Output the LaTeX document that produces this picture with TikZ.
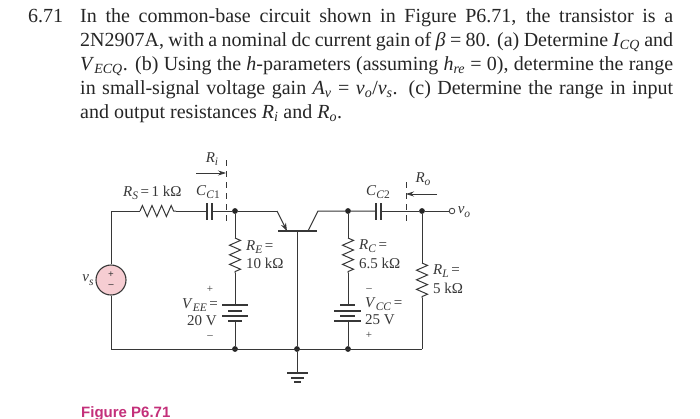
\documentclass[tikz,border=0pt]{standalone}
\usepackage{fontspec}
\setmainfont{Liberation Serif}
\setsansfont{Liberation Sans}
\usetikzlibrary{decorations.pathmorphing,arrows.meta}
\definecolor{inkgray}{RGB}{55,55,55}
\definecolor{srcpink}{RGB}{246,205,210}
\definecolor{figpink}{RGB}{196,48,122}
\newcommand{\vs}[2]{\textit{#1}\textsubscript{\textit{#2}}}
\newcommand{\lb}[2]{\textit{#1}{\raisebox{-0.22em}{\fontsize{11.5}{12}\selectfont\textit{#2}}}}
\newcommand{\fitline}[1]{\makebox[593pt][s]{#1}}
\tikzset{
  wire/.style={inkgray,line width=1pt},
  res/.style={wire,decorate,decoration={zigzag,segment length=9.6pt,amplitude=5.5pt}},
  plate/.style={inkgray,line width=1.2pt},
  dashmark/.style={inkgray,line width=0.7pt,dash pattern=on 6pt off 5pt},
  lookarrow/.style={inkgray,line width=0.7pt,-{Stealth[length=8pt,width=5pt]}},
  junc/.style={circle,fill=black!85,inner sep=0pt,minimum size=5.8pt},
  openterm/.style={circle,draw=inkgray,fill=white,line width=0.8pt,inner sep=0pt,minimum size=5.6pt},
  txt/.style={inner sep=0pt,anchor=base west,text=black!85,font=\fontsize{20}{24}\selectfont},
  lbl/.style={inner sep=0pt,text=inkgray,font=\fontsize{15}{17}\selectfont},
  signlbl/.style={inner sep=0pt,text=inkgray,font=\fontsize{11}{12}\selectfont},
}
\begin{document}
\begin{tikzpicture}[x=1pt,y=-1pt]
  \useasboundingbox [fill=white] (0,0) rectangle (700,418);
  \node [txt] (num) at (28,22) {6.71};
  \node [txt] (line1) at (80,22) {\fitline{In the common-base circuit shown in Figure P6.71, the transistor is a}};
  \node [txt] (line2) at (80,46) {\fitline{2N2907A, with a nominal dc current gain of \textit{β} = 80. (a) Determine \vs{I}{CQ} and}};
  \node [txt] (line3) at (80,70) {\fitline{\vs{V}{ECQ}. (b) Using the \textit{h}-parameters (assuming \vs{h}{re} = 0), determine the range}};
  \node [txt] (line4) at (80,94) {\fitline{in small-signal voltage gain \vs{A}{v} = \vs{v}{o}/\vs{v}{s}. (c) Determine the range in input}};
  \node [txt] (line5) at (80,118) {and output resistances \vs{R}{i} and \vs{R}{o}.};

  \coordinate (tl) at (111,211);
  \coordinate (bl) at (111,349);
  \node [circle,draw=inkgray,fill=srcpink,line width=1.1pt,minimum size=30pt,inner sep=0pt] (vsrc) at (111,280) {};
  \node [lbl,font=\fontsize{10}{11}\selectfont\bfseries] (vsplus) at (111,274.5) {+};
  \node [lbl,font=\fontsize{10}{11}\selectfont\bfseries] (vsminus) at (111,286) {--};
  \coordinate (rs1) at (140,211);
  \coordinate (rs2) at (176,211);
  \coordinate (c1a) at (207,211);
  \coordinate (c1b) at (212,211);
  \node [junc] (ejunc) at (235,211) {};
  \coordinate (emit) at (277,211);
  \coordinate (emitb) at (287,231);
  \coordinate (collb) at (308,231);
  \coordinate (coll) at (318,211);
  \coordinate (basel) at (278,231);
  \coordinate (baser) at (317,231);
  \coordinate (base) at (297,231);
  \node [junc] (cjunc) at (348,211) {};
  \coordinate (c2a) at (376,211);
  \coordinate (c2b) at (381,211);
  \node [junc] (ojunc) at (422,211) {};
  \node [openterm] (vout) at (452,211) {};
  \node [junc] (bjunc1) at (235,349) {};
  \node [junc] (bjunc2) at (297,349) {};
  \node [junc] (bjunc3) at (348,349) {};
  \coordinate (br) at (422,349);
  \coordinate (gnd) at (297,373);

  \draw [wire] (vsrc) -- (tl) -- (rs1);
  \draw [res] (rs1) -- (rs2);
  \draw [wire] (rs2) -- (c1a);
  \draw [wire] (c1b) -- (ejunc) -- (emit);
  \draw [plate] (207,203) -- (207,220);
  \draw [plate] (212,203) -- (212,220);
  \draw [wire,-{Stealth[length=8pt,width=5.5pt]}] (emit) -- (emitb);
  \draw [wire] (collb) -- (coll) -- (cjunc) -- (c2a);
  \draw [plate,line width=1.6pt] (basel) -- (baser);
  \draw [plate] (376,203) -- (376,220);
  \draw [plate] (381,203) -- (381,220);
  \draw [wire] (c2b) -- (ojunc) -- (vout);
  \draw [wire] (base) -- (bjunc2) -- (gnd);
  \draw [wire] (vsrc) -- (bl) -- (br);

  \coordinate (re1) at (235,238);
  \coordinate (re2) at (235,273);
  \draw [wire] (ejunc) -- (re1);
  \draw [res] (re1) -- (re2);
  \draw [wire] (re2) -- (235,305);
  \draw [wire] (235,321) -- (bjunc1);
  \draw [plate] (222,305) -- (248,305);
  \draw [plate] (228,311) -- (242,311);
  \draw [plate] (222,316) -- (248,316);
  \draw [plate] (228,321) -- (242,321);

  \coordinate (rc1) at (348,238);
  \coordinate (rc2) at (348,273);
  \draw [wire] (cjunc) -- (rc1);
  \draw [res] (rc1) -- (rc2);
  \draw [wire] (rc2) -- (348,305);
  \draw [wire] (348,321) -- (bjunc3);
  \draw [plate] (340,305) -- (355,305);
  \draw [plate] (334,311) -- (361,311);
  \draw [plate] (340,316) -- (355,316);
  \draw [plate] (334,321) -- (361,321);

  \coordinate (rl1) at (422,263);
  \coordinate (rl2) at (422,298);
  \draw [wire] (ojunc) -- (rl1);
  \draw [res] (rl1) -- (rl2);
  \draw [wire] (rl2) -- (br);

  \draw [plate] (287,373) -- (308,373);
  \draw [plate] (291,378) -- (304,378);
  \draw [plate] (294,382) -- (301,382);

  \coordinate (ria) at (226,160);
  \coordinate (rib) at (226,225);
  \coordinate (roa) at (406,182);
  \coordinate (rob) at (406,225);
  \coordinate (riarr) at (196,173);
  \coordinate (roarr) at (437,194);
  \draw [dashmark] (ria) -- (rib);
  \draw [dashmark] (roa) -- (rob);
  \draw [lookarrow] (riarr) -- (226,173);
  \draw [lookarrow] (roarr) -- (406,194);

  \node [lbl] (rilab) at (212,159) {\lb{R}{i}};
  \node [lbl] (rolab) at (423,179) {\lb{R}{o}};
  \node [lbl,anchor=west] (rslab) at (123,193) {\lb{R}{S}\,=\,1 kΩ};
  \node [lbl] (c1lab) at (208,192) {\lb{C}{C}\raisebox{-0.22em}{\fontsize{11.5}{12}\selectfont 1}};
  \node [lbl] (c2lab) at (378,192) {\lb{C}{C}\raisebox{-0.22em}{\fontsize{11.5}{12}\selectfont 2}};
  \node [lbl] (volab) at (464,212) {\lb{v}{o}};
  \node [lbl] (vslab) at (88,280) {\lb{v}{s}};
  \node [lbl,anchor=west] (relab) at (246,247) {\lb{R}{E}\,=};
  \node [lbl,anchor=west] (reval) at (246,263) {10 kΩ};
  \node [lbl,anchor=west] (rclab) at (359,246) {\lb{R}{C}\,=};
  \node [lbl,anchor=west] (rcval) at (359,263) {6.5 kΩ};
  \node [lbl,anchor=west] (rllab) at (433,271) {\lb{R}{L}\,=};
  \node [lbl,anchor=west] (rlval) at (433,288) {5 kΩ};
  \node [signlbl] (veeplus) at (210,289) {+};
  \node [lbl,anchor=east] (veelab) at (218,305) {\lb{V}{EE}\,=};
  \node [lbl,anchor=east] (veeval) at (217,321) {20 V};
  \node [signlbl] (veeminus) at (210,337) {--};
  \node [signlbl] (vccminus) at (369,290) {--};
  \node [lbl,anchor=west] (vcclab) at (365,304) {\lb{V}{CC}\,=};
  \node [lbl,anchor=west] (vccval) at (365,320) {25 V};
  \node [signlbl] (vccplus) at (369,335) {+};

  \node [inner sep=0pt,anchor=base west,text=figpink,font=\fontsize{15}{17}\selectfont\sffamily\bfseries] (figlab) at (81,417) {Figure P6.71};
\end{tikzpicture}
\end{document}
